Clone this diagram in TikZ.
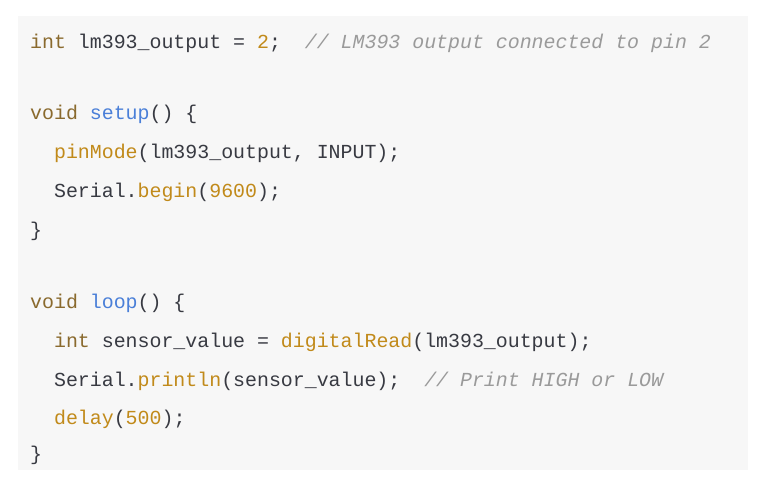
\documentclass[tikz,border=0pt]{standalone}
\usepackage{fontspec}
\newfontfamily\codef{Liberation Mono}
\definecolor{bgc}{HTML}{F7F7F7}
\definecolor{txt}{HTML}{383A42}
\definecolor{kw}{HTML}{8A6A2E}
\definecolor{fn}{HTML}{4A7FD8}
\definecolor{nm}{HTML}{C18A1A}
\definecolor{cm}{HTML}{9A9A9A}
\newcommand{\K}[1]{\textcolor{kw}{#1}}
\newcommand{\F}[1]{\textcolor{fn}{#1}}
\newcommand{\N}[1]{\textcolor{nm}{#1}}
\newcommand{\C}[1]{\textcolor{cm}{\itshape #1}}
\begin{document}
\begin{tikzpicture}[x=1pt,y=-1pt,
  ln/.style={anchor=base west,inner sep=0pt,text=txt,font=\codef\fontsize{19.9}{24}\selectfont}]
\useasboundingbox (0,0) rectangle (768,488);
\fill[white] (0,0) rectangle (768,488);
\fill[bgc] (18,16) rectangle (748,470);
\node[ln] (l1) at (30,48) {\K{int} lm393\_output = \N{2};~~\C{// LM393 output connected to pin 2}};
\node[ln] (l2) at (30,119) {\K{void} \F{setup}() \{};
\node[ln] (l3) at (30,158) {~~\N{pinMode}(lm393\_output, INPUT);};
\node[ln] (l4) at (30,197) {~~Serial.\N{begin}(\N{9600});};
\node[ln] (l5) at (30,236) {\}};
\node[ln] (l6) at (30,308) {\K{void} \F{loop}() \{};
\node[ln] (l7) at (30,347) {~~\K{int} sensor\_value = \N{digitalRead}(lm393\_output);};
\node[ln] (l8) at (30,386) {~~Serial.\N{println}(sensor\_value);~~\C{// Print HIGH or LOW}};
\node[ln] (l9) at (30,424) {~~\N{delay}(\N{500});};
\node[ln] (l10) at (30,460) {\}};
\end{tikzpicture}
\end{document}
